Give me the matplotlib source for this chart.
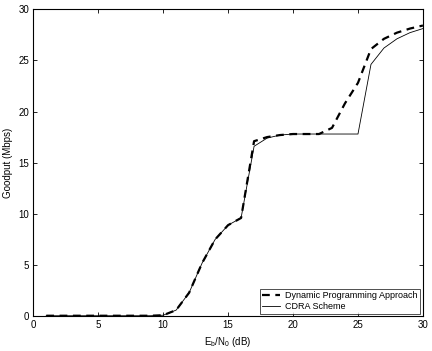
import numpy as np
import matplotlib
matplotlib.use("Agg")
import matplotlib.pyplot as plt

# ----------------------------
# Data
# ----------------------------
ebn0 = list(range(1, 31))

dp_goodput = [0.05, 0.05, 0.05, 0.05, 0.05, 0.05, 0.05, 0.05, 0.05, 0.1,
              0.6, 2.3, 5.2, 7.5, 8.9, 9.6, 17.1, 17.5, 17.7, 17.8,
              17.8, 17.8, 18.4, 20.8, 22.8, 26.1, 27.1, 27.7, 28.1, 28.4]

cdra_goodput = [0.05, 0.05, 0.05, 0.05, 0.05, 0.05, 0.05, 0.05, 0.05, 0.1,
                0.6, 2.3, 5.2, 7.5, 8.9, 9.6, 16.6, 17.4, 17.7, 17.8,
                17.8, 17.8, 17.8, 17.8, 17.8, 24.6, 26.2, 27.1, 27.7, 28.1]

series_labels = ["Dynamic Programming Approach", "CDRA Scheme"]
xticks = [0, 5, 10, 15, 20, 25, 30]
yticks = [0, 5, 10, 15, 20, 25, 30]

# ----------------------------
# Plot
# ----------------------------
plt.rcParams["font.family"] = ["Liberation Sans", "DejaVu Sans"]
plt.rcParams["font.size"] = 7
plt.rcParams["mathtext.fontset"] = "custom"
plt.rcParams["mathtext.rm"] = "Liberation Sans"

fig = plt.figure(figsize=(4.32, 3.51), dpi=100)
ax = fig.add_axes([0.077, 0.099, 0.902, 0.875])

ax.plot(ebn0, dp_goodput, color="black", linestyle=(0, (3.5, 2.5)), linewidth=1.6,
        label=series_labels[0])
ax.plot(ebn0, cdra_goodput, color="black", linestyle="-", linewidth=0.6,
        label=series_labels[1])

ax.set_xlim(0, 30)
ax.set_ylim(0, 30)
ax.set_xticks(xticks)
ax.set_yticks(yticks)
ax.tick_params(direction="in", top=True, right=True, length=3, width=0.6, labelsize=7, pad=3)
for s in ax.spines.values():
    s.set_linewidth(0.8)

ax.set_xlabel(r"E$_\mathregular{b}$/N$_\mathregular{0}$ (dB)", fontsize=7, labelpad=3)
ax.set_ylabel("Goodput (Mbps)", fontsize=7, labelpad=4)

leg = ax.legend(loc="lower right", fontsize=6.5, frameon=True, fancybox=False,
                edgecolor="black", borderaxespad=0.3, handlelength=1.9,
                handletextpad=0.6, borderpad=0.3, labelspacing=0.15)
leg.get_frame().set_linewidth(0.6)

fig.savefig("out.png", dpi=100)
